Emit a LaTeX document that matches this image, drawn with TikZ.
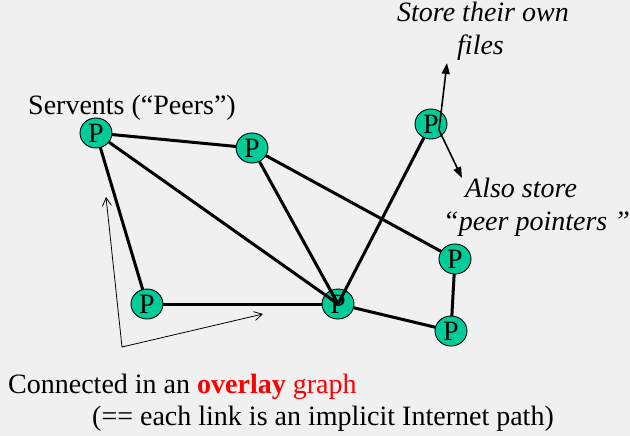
\documentclass[tikz,border=0pt]{standalone}
\usepackage{fontspec}
\setmainfont{Liberation Serif}
\usetikzlibrary{shapes.geometric,arrows.meta,backgrounds}
\definecolor{bgcol}{RGB}{240,240,240}
\definecolor{peercol}{RGB}{0,204,153}
\definecolor{redcol}{RGB}{255,0,0}
\begin{document}
\begin{tikzpicture}[x=1pt,y=-1pt,
  peer/.style={ellipse,draw=black,line width=0.9pt,fill=peercol,minimum width=32pt,minimum height=30pt,inner sep=0pt,font=\fontsize{28}{28}\selectfont},
  link/.style={line width=3pt},
  bigarrow/.style={line width=1.6pt,-{Triangle[length=11pt,width=8pt]}},
  thinarrow/.style={line width=0.8pt,{Straight Barb[length=8pt,width=9pt]}-{Straight Barb[length=8pt,width=9pt]}},
  lbl/.style={font=\fontsize{28}{32}\selectfont,inner sep=0pt},
  ilbl/.style={font=\fontsize{28}{32}\selectfont\itshape,inner sep=0pt,align=center}]
\useasboundingbox (0,0) rectangle (630,436);
\node[peer] (p1) at (96,133) {P};
\node[peer] (p2) at (252,148) {P};
\node[peer] (p3) at (431,124) {P};
\node[peer] (p4) at (147,304) {P};
\node[peer] (p5) at (338,304) {P};
\node[peer] (p6) at (455,259) {P};
\node[peer] (p7) at (451,331) {P};
\coordinate (src) at (439,130);
\coordinate (filesTip) at (447,63);
\coordinate (ptrTip) at (462,178);
\coordinate (tipA) at (106,197);
\coordinate (corner) at (122,347);
\coordinate (tipB) at (263,314);
\begin{scope}[on background layer]
  \fill[bgcol] (0,0) rectangle (630,436);
  \draw[link] (p1.center) -- (p2.center);
  \draw[link] (p1.center) -- (p4.center);
  \draw[link] (p2.center) -- (p6.center);
  \draw[link] (p4.center) -- (p5.center);
  \draw[link] (p5.center) -- (p7.center);
  \draw[link] (p6.center) -- (p7.center);
\end{scope}
\draw[link] (p1) -- (p5.center);
\draw[link] (p2) -- (p5.center);
\draw[link] (p3) -- (p5.center);
\draw[bigarrow] (src) -- (filesTip);
\draw[bigarrow] (src) -- (ptrTip);
\draw[thinarrow] (tipA) -- (corner) -- (tipB);
\node[lbl,anchor=base west] (servents) at (28,114) {Servents (“Peers”)};
\node[ilbl,anchor=base west] (store1) at (397,22) {Store their own};
\node[ilbl,anchor=base west] (store2) at (457,55) {files};
\node[ilbl,anchor=base west] (also1) at (465,197) {Also store};
\node[ilbl,anchor=base west] (also2) at (443,230) {“peer pointers ”};
\node[lbl,anchor=base west] (conn1) at (8,393) {Connected in an \textcolor{redcol}{\textbf{overlay} graph}};
\node[lbl,anchor=base west] (conn2) at (92,425) {(== each link is an implicit Internet path)};
\end{tikzpicture}
\end{document}
